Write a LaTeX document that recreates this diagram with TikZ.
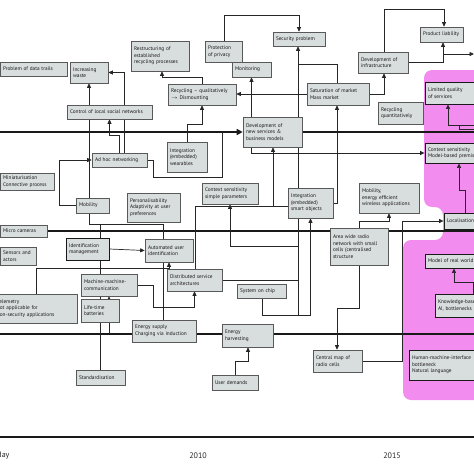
\documentclass[tikz,border=0pt]{standalone}
\usepackage{fontspec}
\setmainfont{PT Sans}
\usetikzlibrary{arrows.meta}
\pgfdeclarelayer{zone}
\pgfdeclarelayer{background}
\pgfsetlayers{zone,background,main}
\definecolor{boxgray}{RGB}{216,221,221}
\definecolor{pinkzone}{RGB}{242,140,238}
\tikzstyle{box}=[rectangle,draw=black!65,fill=boxgray,line width=0.6pt,align=left,inner xsep=3pt,inner ysep=1pt,text=black!90,font=\fontsize{5.3}{6.6}\selectfont]
\tikzstyle{boxdark}=[box,draw=black!90,line width=0.9pt]
\tikzstyle{line}=[draw,line width=0.7pt,color=black!85]
\tikzstyle{arrow}=[line,-{Triangle[length=4.5pt,width=4pt]}]
\tikzstyle{timeline}=[draw,line width=1.3pt,color=black!90]
\tikzstyle{year}=[font=\fontsize{8}{9}\selectfont,text=black!85]

\begin{document}
\begin{tikzpicture}[x=1pt,y=-1pt]
\useasboundingbox (0,0) rectangle (474,474);
\begin{pgfonlayer}{zone}
\fill[pinkzone,rounded corners=8pt] (490,70) -- (424,70) -- (424,207) -- (443,207) -- (443,240) -- (403,240) -- (403,400) -- (490,400) -- cycle;
\end{pgfonlayer}

\node [box,text width=61,minimum height=14] (datatrails) at (33.5,69) {Problem of data trails};
\node [box,text width=32,minimum height=21] (waste) at (89,72.5) {Increasing\\waste};
\node [box,text width=52,minimum height=30] (restruct) at (160,56) {Restructuring of\\established\\recycling processes};
\node [box,text width=31,minimum height=21] (privacy) at (223.5,51.5) {Protection\\of privacy};
\node [box,text width=33,minimum height=15] (monitor) at (251.5,69.5) {Monitoring};
\node [box,text width=46,minimum height=14] (secprob) at (299,39) {Security problem};
\node [box,text width=44,minimum height=21] (infra) at (383,62.5) {Development of\\infrastructure};
\node [box,text width=37,minimum height=15] (prodliab) at (441.5,34.5) {Product liability};
\node [box,text width=62,minimum height=21] (recqual) at (202,94.5) {Recycling -- qualitatively\\$\rightarrow$ Dismounting};
\node [box,text width=56,minimum height=22] (satur) at (338,94) {Saturation of market\\Mass market};
\node [box,text width=79,minimum height=14] (socnet) at (109.5,112) {Control of local social networks};
\node [box,text width=39,minimum height=22] (recquant) at (400.5,113) {Recycling\\quantitatively};
\node [boxdark,text width=43,minimum height=22] (limqual) at (449.5,93) {Limited quality\\of services};
\node [box,text width=53,minimum height=30] (devserv) at (272.5,132) {Development of\\new services \&\\business models};
\node [box,text width=34,minimum height=30] (wearab) at (187,157) {Integration\\(embedded)\\wearables};
\node [boxdark,text width=64,minimum height=20] (ctxmodel) at (460,153) {Context sensitivity\\Model-based premises};
\node [box,text width=49,minimum height=14] (adhoc) at (119.5,160) {Ad hoc networking};
\node [box,text width=48,minimum height=17] (miniat) at (27,181.5) {Miniaturisation\\Connective process};
\node [box,text width=50,minimum height=21] (ctxsimple) at (230,193.5) {Context sensitivity\\simple parameters};
\node [box,text width=54,minimum height=30] (mobenergy) at (389,198) {Mobility,\\energy efficient\\wireless applications};
\node [box,text width=39,minimum height=30] (smartobj) at (310.5,203) {Integration\\(embedded)\\smart objects};
\node [box,text width=47,minimum height=29] (personal) at (153.5,207.5) {Personalisability\\Adaptivity at user\\preferences};
\node [box,text width=27,minimum height=15] (mobility) at (92.5,205.5) {Mobility};
\node [boxdark,text width=50,minimum height=16] (local) at (472,221) {Localisation};
\node [box,text width=41,minimum height=12] (microcam) at (23.5,231) {Micro cameras};
\node [box,text width=52,minimum height=37] (areawide) at (359,246.5) {Area wide radio\\network with small\\cells (centralised\\structure};
\node [boxdark,text width=37,minimum height=22] (identif) at (87.5,249) {Identification\\management};
\node [box,text width=42,minimum height=23] (autouser) at (169,250.5) {Automated user\\identification};
\node [box,text width=30,minimum height=18] (sensors) at (18,256) {Sensors and\\actors};
\node [boxdark,text width=69,minimum height=14] (realworld) at (462.5,261) {Model of real world};
\node [box,text width=49,minimum height=22] (distserv) at (194.5,280) {Distributed service\\architectures};
\node [box,text width=50,minimum height=22] (m2m) at (109,285) {Machine-machine-\\communication};
\node [box,text width=43,minimum height=14] (sysonchip) at (261.5,291) {System on chip};
\node [boxdark,text width=59,minimum height=23] (knowledge) at (467.5,305.5) {Knowledge-based\\AI, bottlenecks};
\node [box,text width=77,minimum height=29] (telemetry) at (35.5,308.5) {Telemetry\\not applicable for\\non-security applications};
\node [box,text width=32,minimum height=23] (lifetime) at (100,310.5) {Life-time\\batteries};
\node [box,text width=58,minimum height=22] (energysup) at (164,331) {Energy supply\\Charging via induction};
\node [box,text width=45,minimum height=23] (harvest) at (247.5,335.5) {Energy\\harvesting};
\node [boxdark,text width=85,minimum height=30] (hmi) at (454.5,365) {Human-machine-interface\\bottleneck\\Natural language};
\node [box,text width=43,minimum height=22] (centralmap) at (337.5,361) {Central map of\\radio cells};
\node [box,text width=43,minimum height=15] (standard) at (100.5,377.5) {Standardisation};
\node [box,text width=40,minimum height=15] (userdem) at (235,382.5) {User demands};

\node [year,anchor=east] (today) at (13,456) {Today};
\node [year] (y2010) at (198,456) {2010};
\node [year] (y2015) at (392,456) {2015};

\begin{pgfonlayer}{background}
\draw [timeline,line width=1.5pt,-{Triangle[length=6pt,width=6pt]}] (0,132) -- (devserv.west);
\draw [timeline,line width=2.2pt] (devserv.east) -- (474,132);
\draw [timeline,line width=1.2pt] (microcam.east) -- (474,231);
\draw [timeline,line width=1.2pt] (0,334) -- (474,334);
\draw [timeline,line width=2pt] (0,437) -- (474,437);

\draw [arrow] ([xshift=4.5pt]adhoc.north) |- (waste.east);
\draw [arrow] ([xshift=-0.5pt]adhoc.north) -- ++(0,-17) -| (socnet.south);
\draw [line] (adhoc.east) -- (153,160) -- (153,177) -- (222,177) -- (222,132);
\draw [arrow] (mobility.west) -- (59,205.5) |- (adhoc.west);
\draw [arrow] ([xshift=-1pt]energysup.north) -- (163,224) -| (waste.south);
\draw [line] (standard.north) -- (100.5,224);
\draw [arrow] (109,334) -- (m2m.south);
\draw [arrow] (identif.east) -- (autouser.west);
\draw [arrow] ([xshift=0.5pt]telemetry.north) |- (169,268) -- (autouser.south);
\draw [arrow] (m2m.east) -- (153,285) |- (194.5,307) -- (distserv.south);
\draw [arrow] ([xshift=0.5pt]distserv.north) |- (273,206) -- ([xshift=0.5pt]devserv.south);
\draw [line] ([yshift=-3pt]smartobj.west) -- (273,206);
\draw [arrow] (smartobj.east) -- (337,203) -- ([xshift=-1pt]satur.south);
\draw [arrow] ([xshift=0.5pt]sysonchip.south) |- (310.5,315) -- (smartobj.south);
\draw [arrow] (298,315) -- ([xshift=-1pt]secprob.south);
\draw [arrow] (298,246) -| (ctxsimple.south);
\draw [line] (distserv.east) -- (298,280);
\draw [arrow] (monitor.south |- devserv.north) -- (monitor.south);
\draw [arrow] (monitor.south |- devserv.south) -- (251.5,153) -- (ctxmodel.west);
\draw [arrow] ([xshift=0.5pt]privacy.north) -- (224,15) -| (secprob.north);
\draw [line] ([xshift=-1pt]satur.north) |- (298,64);
\draw [arrow] (satur.west) -- (satur.west -| recqual.east);
\draw [arrow] (recqual.north) -- (202,77) -| ([xshift=2pt]restruct.south);
\draw [arrow] (wearab.north) |- (202,124) -- (recqual.south);
\draw [arrow] (satur.east) -| ([xshift=1pt]infra.south);
\draw [arrow] ([xshift=1pt]infra.north) |- (444,9) -- ([xshift=2.5pt]prodliab.north);
\draw [line] (infra.east) -- (443,62.5) -- (443,54);
\draw [arrow] (443,54) -- ([xshift=1.5pt]prodliab.south);
\draw [arrow] (443,54) -- (474,54);
\draw [arrow] (474,125) -| ([xshift=-1.5pt]limqual.south);
\draw [line] (474,129) -- (459,129) -- (459,125);
\draw [arrow] ([xshift=-7pt]local.north) |- (459,190) -- ([xshift=-1pt]ctxmodel.south);
\draw [arrow] (centralmap.east) -| (402,221) -- (local.west);
\draw [arrow] (areawide.north) |- (389,221) -- (mobenergy.south);
\draw [arrow] (areawide.south) -- (359,308) -| ([xshift=-0.5pt]centralmap.north);
\draw [arrow] ([xshift=5.5pt]knowledge.north) -- (473,282) -| ([xshift=-8.5pt]realworld.south);
\draw [arrow] (userdem.north) |- (248,361) -- ([xshift=0.5pt]harvest.south);
\end{pgfonlayer}
\end{tikzpicture}
\end{document}
